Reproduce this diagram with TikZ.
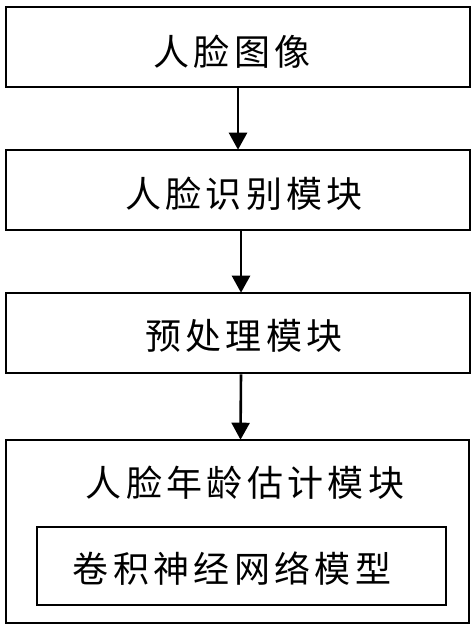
\documentclass[tikz,border=0pt]{standalone}
\usepackage{fontspec}
\newfontfamily\cjk[LetterSpace=12]{Noto Sans CJK SC}
\usetikzlibrary{arrows.meta}
\tikzset{
  box/.style={draw=black, line width=2.6pt, minimum width=464pt, minimum height=80pt, inner sep=0pt},
  lbl/.style={font=\cjk\fontsize{36}{40}\selectfont, inner sep=0pt},
  flow/.style={line width=2.6pt, -{Triangle[width=18pt,length=17pt]}, shorten >=-1pt}
}
\begin{document}
\begin{tikzpicture}[x=1pt,y=1pt]
\useasboundingbox[fill=white] (0,0) rectangle (474,-631);
\node[box] (b1) at (238,-47) {};
\node[lbl] (t1) at (232,-52) {人脸图像};
\node[box] (b2) at (238,-190) {};
\node[lbl] (t2) at (244,-194) {人脸识别模块};
\node[box] (b3) at (238,-333) {};
\node[lbl] (t3) at (244,-336) {预处理模块};
\node[box, minimum width=463pt, minimum height=183pt] (b4) at (237.5,-531.5) {};
\node[lbl] (t4) at (245,-483) {人脸年龄估计模块};
\node[box, minimum width=409pt, minimum height=78pt] (b5) at (241.5,-566) {};
\node[lbl] (t5) at (232,-569) {卷积神经网络模型};
\draw[flow] (b1.south) -- (b2.north);
\draw[flow] ([xshift=3pt]b2.south) -- ([xshift=3pt]b3.north);
\draw[flow] ([xshift=3pt]b3.south) -- ([xshift=3pt]b4.north);
\end{tikzpicture}
\end{document}
